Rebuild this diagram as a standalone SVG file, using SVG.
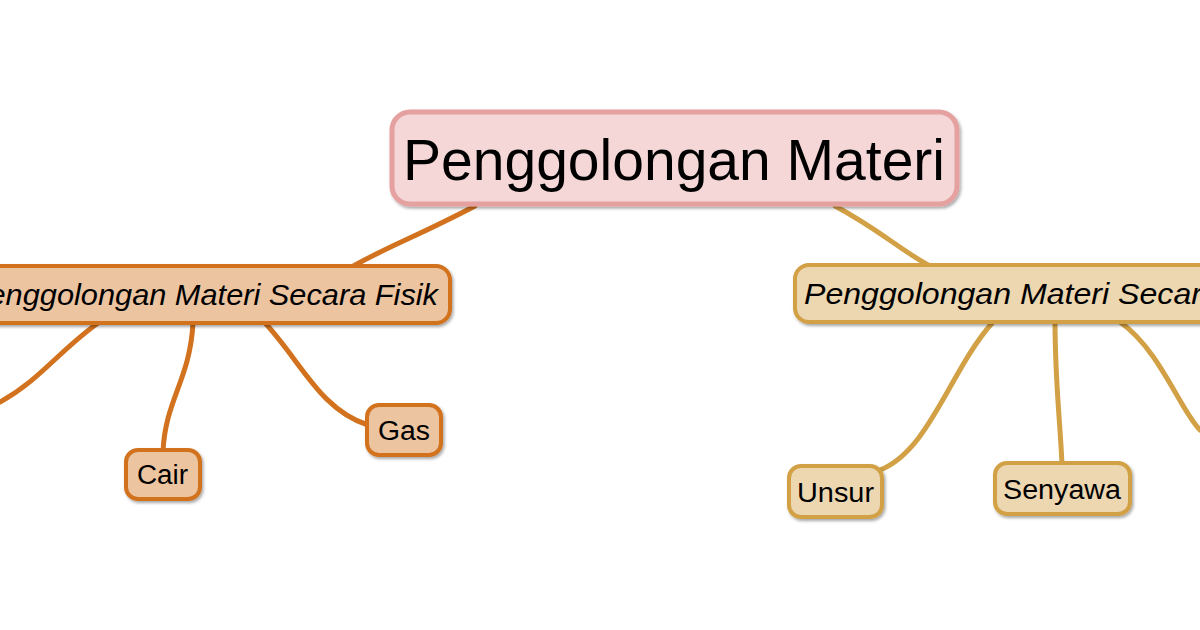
<svg xmlns="http://www.w3.org/2000/svg" width="1200" height="630" viewBox="0 0 1200 630">
<defs>
<filter id="sh" x="-10%" y="-20%" width="120%" height="150%"><feDropShadow dx="1.5" dy="2" stdDeviation="1.5" flood-color="#000" flood-opacity="0.35"/></filter>
</defs>
<style>
text{font-family:"Liberation Sans",Arial,sans-serif;fill:#000}
.o{stroke:#d2721f;fill:none;stroke-width:5;stroke-linecap:round}
.y{stroke:#d2a045;fill:none;stroke-width:5;stroke-linecap:round}
.on{fill:#ecc4a0;stroke:#d2721f;stroke-width:4;filter:url(#sh)}
.yn{fill:#ecd7b0;stroke:#d2a045;stroke-width:4;filter:url(#sh)}
</style>
<rect width="1200" height="630" fill="#fff"/>
<g id="connectors">
<path class="o" d="M475 206 C420 235 380 250 350 268"/>
<path class="y" d="M835 206 C880 230 900 250 930 266"/>
<path class="o" d="M98 323 C60 350 40 380 0 402"/>
<path class="o" d="M193 323 C190 380 165 400 163 452"/>
<path class="o" d="M265 323 C300 360 320 410 368 425"/>
<path class="y" d="M993 322 C950 370 930 450 880 470"/>
<path class="y" d="M1055 322 C1055 380 1060 420 1062 464"/>
<path class="y" d="M1120 322 C1160 350 1180 410 1200 430"/>
</g>
<g id="root">
<rect x="392" y="112" width="565" height="92" rx="18" fill="#f5d7d7" stroke="#e5a0a0" stroke-width="5" filter="url(#sh)"/>
<text x="403" y="180" font-size="58" textLength="542" lengthAdjust="spacingAndGlyphs">Penggolongan Materi</text>
</g>
<g id="fisik">
<rect class="on" x="-40" y="266" width="490" height="57" rx="14"/>
<text x="-32" y="305" font-size="29" font-style="italic" textLength="470" lengthAdjust="spacingAndGlyphs">Penggolongan Materi Secara Fisik</text>
</g>
<g id="kimia">
<rect class="yn" x="795" y="265" width="460" height="57" rx="14"/>
<text x="804" y="304" font-size="29" font-style="italic" textLength="505" lengthAdjust="spacingAndGlyphs">Penggolongan Materi Secara Kimia</text>
</g>
<g id="cair">
<rect class="on" x="126" y="450" width="74" height="49" rx="12"/>
<text x="137" y="484" font-size="27" textLength="51" lengthAdjust="spacingAndGlyphs">Cair</text>
</g>
<g id="gas">
<rect class="on" x="367" y="405" width="74" height="50" rx="12"/>
<text x="378" y="440" font-size="27" textLength="52" lengthAdjust="spacingAndGlyphs">Gas</text>
</g>
<g id="unsur">
<rect class="yn" x="789" y="466" width="93" height="51" rx="12"/>
<text x="797" y="502" font-size="27" textLength="77" lengthAdjust="spacingAndGlyphs">Unsur</text>
</g>
<g id="senyawa">
<rect class="yn" x="995" y="463" width="135" height="51" rx="12"/>
<text x="1003" y="499" font-size="27" textLength="118" lengthAdjust="spacingAndGlyphs">Senyawa</text>
</g>
</svg>
